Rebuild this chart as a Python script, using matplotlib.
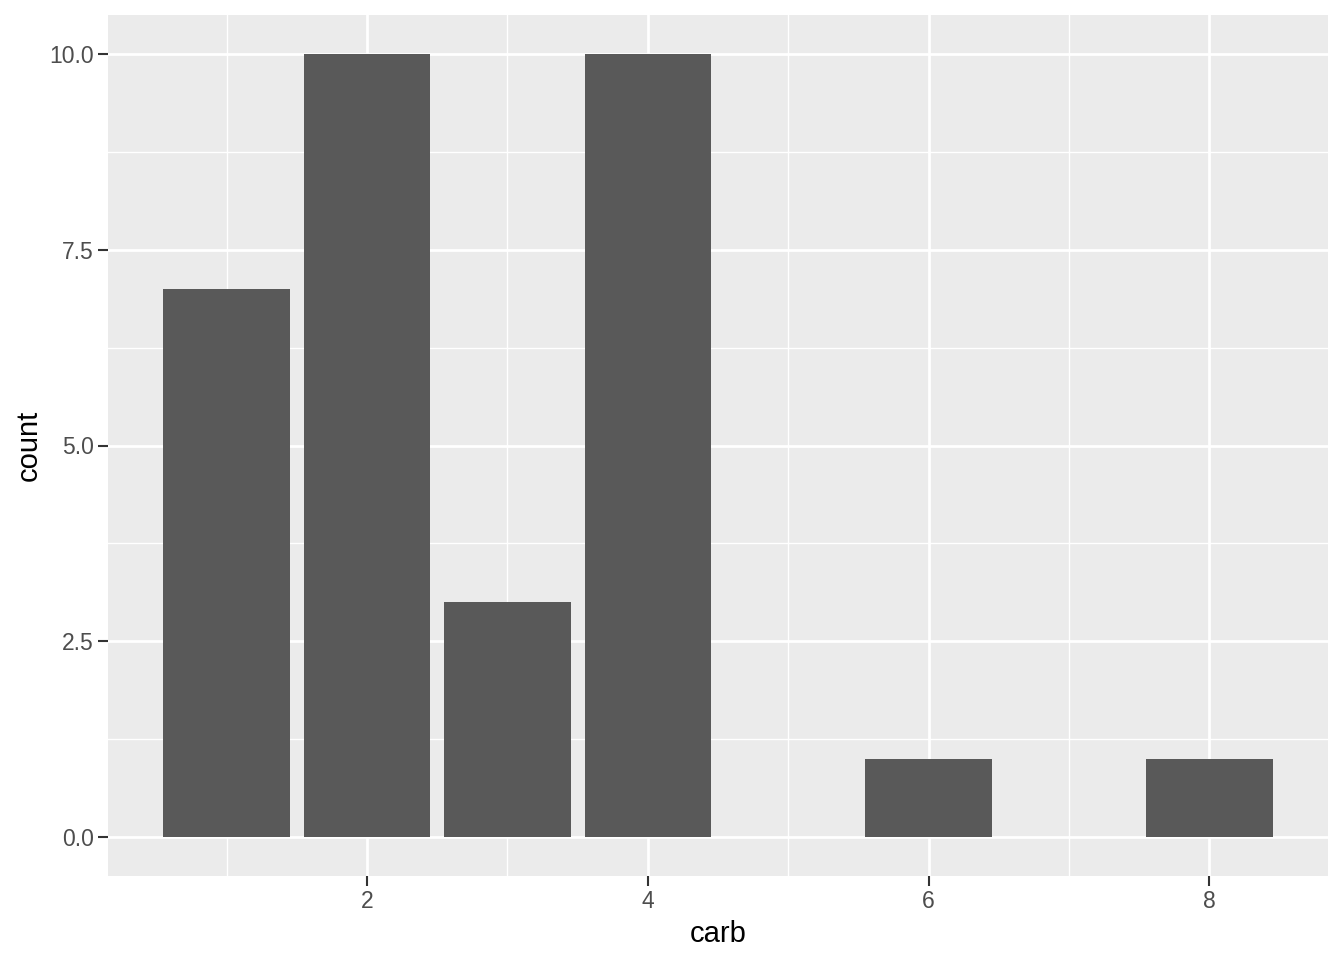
import matplotlib
matplotlib.use("Agg")
import matplotlib.pyplot as plt

plt.rcParams['font.family'] = ['Liberation Sans', 'DejaVu Sans']

carb = [1, 2, 3, 4, 6, 8]
count = [7, 10, 3, 10, 1, 1]

x_major = [2, 4, 6, 8]
x_minor = [1, 3, 5, 7]
y_major = [0.0, 2.5, 5.0, 7.5, 10.0]
y_minor = [1.25, 3.75, 6.25, 8.75]

fig = plt.figure(figsize=(13.44, 9.6), dpi=100)
ax = fig.add_axes([108 / 1344, 1 - 876 / 960, (1328 - 108) / 1344, (876 - 15) / 960])
ax.set_facecolor("#EBEBEB")

for v in x_minor:
    ax.axvline(v, color="white", lw=1.0, zorder=0)
for v in y_minor:
    ax.axhline(v, color="white", lw=1.0, zorder=0)
for v in x_major:
    ax.axvline(v, color="white", lw=2.0, zorder=0)
for v in y_major:
    ax.axhline(v, color="white", lw=2.0, zorder=0)

ax.bar(carb, count, width=0.9, color="#595959", zorder=2)

ax.set_xlim(0.155, 8.845)
ax.set_ylim(-0.5, 10.5)
ax.set_xticks(x_major)
ax.set_xticklabels([str(v) for v in x_major])
ax.set_yticks(y_major)
ax.set_yticklabels([f"{v:.1f}" for v in y_major])

for s in ax.spines.values():
    s.set_visible(False)
ax.tick_params(axis="both", length=7, width=1.5, color="#333333",
               labelcolor="#4D4D4D", labelsize=16.5, pad=3)

ax.set_xlabel("carb", fontsize=21, color="black", labelpad=5)
ax.set_ylabel("count", fontsize=21, color="black", labelpad=5)

fig.savefig("out.png", dpi=100)
